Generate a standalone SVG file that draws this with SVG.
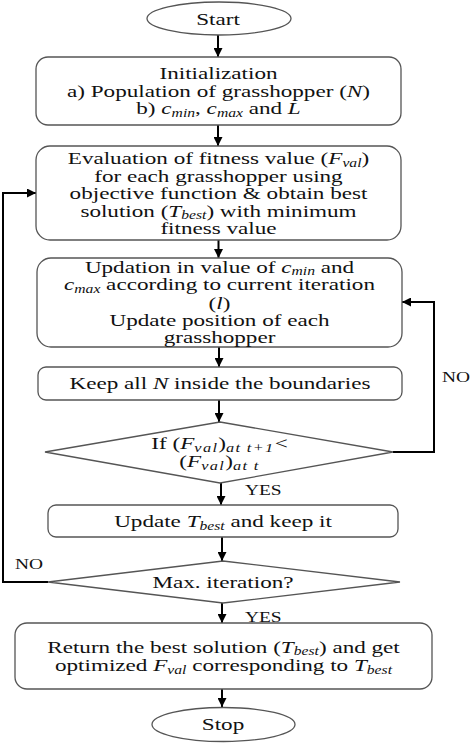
<svg xmlns="http://www.w3.org/2000/svg" width="474" height="745" viewBox="0 0 474 745">
<style>
.shape{fill:#fff;stroke:#555;stroke-width:1.3}
.t{font-family:"Liberation Serif","Times New Roman",serif;font-size:17px;fill:#111;text-anchor:middle}
.lbl{font-family:"Liberation Serif","Times New Roman",serif;font-size:14.6px;fill:#111}
.i{font-style:italic}
.s{font-style:italic;font-size:11.5px}
.sw{font-style:italic;font-size:12px;letter-spacing:1px}
.c{fill:none;stroke:#000;stroke-width:2}
</style>
<defs>
<marker id="ah" viewBox="0 0 10 10" refX="10" refY="5" markerWidth="9" markerHeight="9" markerUnits="userSpaceOnUse" orient="auto">
<path d="M0,0 L10,5 L0,10 z" fill="#000"/>
</marker>
</defs>
<rect width="474" height="745" fill="#fff"/>
<g id="connectors">
<path class="c" d="M218,35 V57" marker-end="url(#ah)"/>
<path class="c" d="M218,125 V146" marker-end="url(#ah)"/>
<path class="c" d="M218.5,240 V258" marker-end="url(#ah)"/>
<path class="c" d="M219,347 V367" marker-end="url(#ah)"/>
<path class="c" d="M219,400 V422" marker-end="url(#ah)"/>
<path class="c" d="M221,483 V505" marker-end="url(#ah)"/>
<path class="c" d="M222,537 V561" marker-end="url(#ah)"/>
<path class="c" d="M222,603 V623" marker-end="url(#ah)"/>
<path class="c" d="M222,689 V707" marker-end="url(#ah)"/>
<path class="c" d="M393,452 H434 V302 H402" marker-end="url(#ah)"/>
<path class="c" d="M48,582 H3 V193 H36" marker-end="url(#ah)"/>
<text class="lbl" transform="translate(442 382) scale(1.33 1)">NO</text>
<text class="lbl" transform="translate(245 495) scale(1.33 1)">YES</text>
<text class="lbl" transform="translate(15 569) scale(1.33 1)">NO</text>
<text class="lbl" transform="translate(245 622) scale(1.33 1)">YES</text>
</g>
<g id="start">
<ellipse class="shape" cx="219" cy="18.5" rx="72" ry="16.5"/>
<text class="t" transform="translate(218 24.5) scale(1.36 1)">Start</text>
</g>
<g id="init">
<rect class="shape" x="36" y="57" width="365" height="68" rx="12"/>
<text class="t" transform="translate(218.5 79) scale(1.36 1)">Initialization</text>
<text class="t" transform="translate(218.5 97) scale(1.36 1)">a) Population of grasshopper (<tspan class="i">N</tspan>)</text>
<text class="t" transform="translate(218.5 114) scale(1.36 1)">b) <tspan class="i">c</tspan><tspan class="s" dy="2.5">min</tspan><tspan dy="-2.5">, </tspan><tspan class="i">c</tspan><tspan class="s" dy="2.5">max</tspan><tspan dy="-2.5"> and </tspan><tspan class="i">L</tspan></text>
</g>
<g id="eval">
<rect class="shape" x="36" y="146" width="365" height="94" rx="14"/>
<text class="t" transform="translate(218.5 164) scale(1.36 1)">Evaluation of fitness value (<tspan class="i">F</tspan><tspan class="s" dy="2.5">val</tspan><tspan dy="-2.5">)</tspan></text>
<text class="t" transform="translate(218.5 182) scale(1.36 1)">for each grasshopper using</text>
<text class="t" transform="translate(218.5 199) scale(1.36 1)">objective function &amp; obtain best</text>
<text class="t" transform="translate(218.5 216.5) scale(1.36 1)">solution (<tspan class="i">T</tspan><tspan class="s" dy="2.5">best</tspan><tspan dy="-2.5">) with minimum</tspan></text>
<text class="t" transform="translate(218.5 233.5) scale(1.36 1)">fitness value</text>
</g>
<g id="update">
<rect class="shape" x="37" y="258" width="365" height="89" rx="14"/>
<text class="t" transform="translate(219.5 272.5) scale(1.36 1)">Updation in value of <tspan class="i">c</tspan><tspan class="s" dy="2.5">min</tspan><tspan dy="-2.5"> and</tspan></text>
<text class="t" transform="translate(219.5 290) scale(1.36 1)"><tspan class="i">c</tspan><tspan class="s" dy="2.5">max</tspan><tspan dy="-2.5"> according to current iteration</tspan></text>
<text class="t" transform="translate(219.5 308.5) scale(1.36 1)">(<tspan class="i">l</tspan>)</text>
<text class="t" transform="translate(219.5 326) scale(1.36 1)">Update position of each</text>
<text class="t" transform="translate(219.5 342.5) scale(1.36 1)">grasshopper</text>
</g>
<g id="keep">
<rect class="shape" x="38" y="367" width="364" height="33" rx="8"/>
<text class="t" transform="translate(220 388.5) scale(1.36 1)">Keep all <tspan class="i">N</tspan> inside the boundaries</text>
</g>
<g id="decision1">
<polygon class="shape" points="220,422 393,452 220,483 45,452"/>
<text class="t" transform="translate(219.5 449) scale(1.36 1)">If (<tspan class="i">F</tspan><tspan class="sw" dy="2.5">val</tspan><tspan dy="-2.5">)</tspan><tspan class="sw" dy="2.5">at t+1</tspan><tspan dy="-2.5">&lt;</tspan></text>
<text class="t" transform="translate(219.5 467) scale(1.36 1)">(<tspan class="i">F</tspan><tspan class="sw" dy="2.5">val</tspan><tspan dy="-2.5">)</tspan><tspan class="sw" dy="2.5">at t</tspan></text>
</g>
<g id="updatebest">
<rect class="shape" x="48" y="505" width="350" height="32" rx="8"/>
<text class="t" transform="translate(223 527) scale(1.36 1)">Update <tspan class="i">T</tspan><tspan class="s" dy="2.5">best</tspan><tspan dy="-2.5"> and keep it</tspan></text>
</g>
<g id="decision2">
<polygon class="shape" points="223,561 400,582 223,603 48,582"/>
<text class="t" transform="translate(223 587.5) scale(1.36 1)">Max. iteration?</text>
</g>
<g id="return">
<rect class="shape" x="15" y="623" width="417" height="66" rx="12"/>
<text class="t" transform="translate(223.5 652.5) scale(1.36 1)">Return the best solution (<tspan class="i">T</tspan><tspan class="s" dy="2.5">best</tspan><tspan dy="-2.5">) and get</tspan></text>
<text class="t" transform="translate(223.5 671) scale(1.36 1)">optimized <tspan class="i">F</tspan><tspan class="s" dy="2.5">val</tspan><tspan dy="-2.5"> corresponding to </tspan><tspan class="i">T</tspan><tspan class="s" dy="2.5">best</tspan></text>
</g>
<g id="stop">
<ellipse class="shape" cx="223.5" cy="724.5" rx="71.5" ry="17"/>
<text class="t" transform="translate(223 730) scale(1.36 1)">Stop</text>
</g>
</svg>
